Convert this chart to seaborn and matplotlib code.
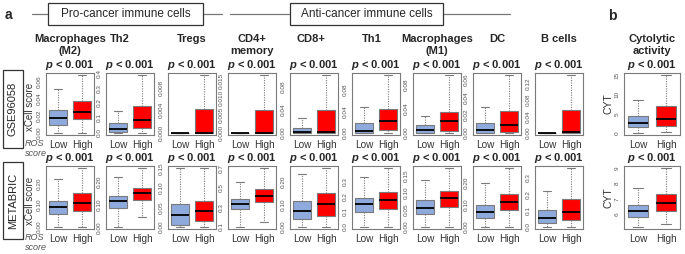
import matplotlib
matplotlib.use("Agg")
import matplotlib.pyplot as plt
import numpy as np
import pandas as pd
import seaborn as sns
from matplotlib.lines import Line2D
from matplotlib.patches import Rectangle

W, H = 685, 254

GROUPS = ["Low", "High"]
TITLES = ["Macrophages\n(M2)", "Th2", "Tregs", "CD4+\nmemory", "CD8+", "Th1",
          "Macrophages\n(M1)", "DC", "B cells", "Cytolytic\nactivity"]
P_TEXT = "$\\mathit{p}$ < 0.001"

# five-number summaries [min, q1, median, q3, max]
GSE_LOW = [
    [0.0, 0.009, 0.017, 0.027, 0.052],
    [0.0, 0.007, 0.028, 0.062, 0.145],
    [0.0, 0.0, 0.0, 0.0, 0.0],
    [0.0, 0.0, 0.0, 0.0, 0.0],
    [0.0, 0.0, 0.001, 0.008, 0.026],
    [0.0, 0.0, 0.004, 0.018, 0.049],
    [0.0, 0.0, 0.004, 0.012, 0.028],
    [0.0, 0.0, 0.003, 0.011, 0.029],
    [0.0, 0.0, 0.0, 0.0, 0.0],
    [0.1, 1.6, 2.6, 4.4, 8.5],
]
GSE_HIGH = [
    [0.0, 0.016, 0.025, 0.037, 0.068],
    [0.0, 0.034, 0.083, 0.18, 0.386],
    [0.0, 0.0, 0.0, 0.0043, 0.0102],
    [0.0, 0.0, 0.0, 0.0065, 0.0165],
    [0.0, 0.0, 0.0005, 0.04, 0.10],
    [0.0, 0.005, 0.022, 0.045, 0.108],
    [0.0, 0.003, 0.019, 0.035, 0.095],
    [0.0, 0.001, 0.009, 0.025, 0.065],
    [0.0, 0.0, 0.001, 0.055, 0.14],
    [0.2, 1.9, 3.6, 7.0, 15.0],
]
GSE_TICKS = [
    ["0.00", "0.02", "0.04", "0.06"],
    ["0.0", "0.1", "0.2", "0.3", "0.4"],
    ["0.000", "0.004", "0.008"],
    ["0.000", "0.005", "0.010", "0.015"],
    ["0.00", "0.04", "0.08"],
    ["0.00", "0.04", "0.08"],
    ["0.00", "0.04", "0.08"],
    ["0.00", "0.02", "0.04", "0.06"],
    ["0.00", "0.04", "0.08", "0.12"],
    ["0", "5", "10", "15"],
]

MET_LOW = [
    [0.0, 0.057, 0.09, 0.12, 0.22],
    [0.003, 0.085, 0.115, 0.14, 0.22],
    [0.0, 0.005, 0.031, 0.059, 0.15],
    [0.1, 0.28, 0.33, 0.38, 0.56],
    [0.0, 0.033, 0.071, 0.114, 0.238],
    [0.0, 0.095, 0.15, 0.19, 0.33],
    [0.0, 0.037, 0.055, 0.077, 0.135],
    [0.0, 0.038, 0.067, 0.10, 0.20],
    [0.0, 0.022, 0.055, 0.10, 0.22],
    [5.2, 5.85, 6.2, 6.6, 7.75],
]
MET_HIGH = [
    [0.0, 0.071, 0.11, 0.157, 0.27],
    [0.045, 0.12, 0.15, 0.175, 0.26],
    [0.0, 0.015, 0.041, 0.067, 0.15],
    [0.15, 0.35, 0.42, 0.49, 0.70],
    [0.0, 0.048, 0.10, 0.152, 0.262],
    [0.0, 0.115, 0.175, 0.23, 0.39],
    [0.0, 0.058, 0.083, 0.105, 0.17],
    [0.0, 0.075, 0.11, 0.148, 0.265],
    [0.0, 0.04, 0.09, 0.17, 0.36],
    [5.35, 6.2, 6.75, 7.35, 9.0],
]
MET_TICKS = [
    ["0.00", "0.10", "0.20"],
    ["0.00", "0.10", "0.20"],
    ["0.00", "0.05", "0.10", "0.15"],
    ["0.1", "0.3", "0.5", "0.7"],
    ["0.00", "0.10", "0.20"],
    ["0.0", "0.1", "0.2", "0.3"],
    ["0.00", "0.05", "0.10", "0.15"],
    ["0.00", "0.10", "0.20"],
    ["0.0", "0.1", "0.2", "0.3"],
    ["6", "7", "8", "9"],
]

LOW_COLOR = "#8EA9DB"
HIGH_COLOR = "#FF0000"
EDGE = "#7A7A7A"

# panel geometry in pixels
LEFTS = [46, 106, 168, 228, 290, 352, 413, 473, 535, 624]
WIDTHS = [48] * 9 + [56]
TITLE_SHIFT = [0, -10, 0, 0, -3, -4, 0, 0, 0, 0]
ROWS = [(73, 62), (166, 63)]


def fig_rect(left, top, width, height):
    return [left / W, 1 - (top + height) / H, width / W, height / H]


def fx(x):
    return x / W


def fy(y):
    return 1 - y / H


def draw_panel(ax, low, high, ticks):
    df = pd.DataFrame({"group": np.repeat(GROUPS, 5), "value": list(low) + list(high)})
    sns.boxplot(data=df, x="group", y="value", hue="group", order=GROUPS,
                palette=[LOW_COLOR, HIGH_COLOR], saturation=1, whis=(0, 100), width=0.72,
                linecolor=EDGE, linewidth=0.8, showfliers=False, legend=False,
                whiskerprops=dict(linestyle=(0, (1, 1.2))),
                medianprops=dict(color="black", linewidth=1.3), ax=ax)
    lo = min(min(low), min(high))
    hi = max(max(low), max(high))
    pad = 0.04 * (hi - lo)
    ax.set_ylim(lo - pad, hi + pad)
    ax.set_xlim(-0.5, 1.5)
    ax.set_yticks([float(t) for t in ticks])
    ax.set_yticklabels(ticks, rotation=90, va="center", fontsize=4.6, color="#555555")
    ax.set_xticks([0, 1])
    ax.set_xticklabels(GROUPS, fontsize=7.2, color="#333333")
    ax.tick_params(axis="y", length=2, width=0.6, color=EDGE, pad=1)
    ax.tick_params(axis="x", length=2, width=0.6, color=EDGE, pad=1.5)
    ax.set_xlabel("")
    ax.set_ylabel("")
    for sp in ax.spines.values():
        sp.set_visible(True)
        sp.set_color(EDGE)
        sp.set_linewidth(0.8)


def main():
    sns.set_theme(style="white")
    plt.rcParams["font.family"] = ["Liberation Sans", "DejaVu Sans"]
    plt.rcParams["mathtext.fontset"] = "custom"
    plt.rcParams["mathtext.it"] = "Liberation Sans:italic:bold"
    plt.rcParams["mathtext.rm"] = "Liberation Sans:bold"

    fig = plt.figure(figsize=(W / 100, H / 100), dpi=100)

    data_rows = [(GSE_LOW, GSE_HIGH, GSE_TICKS), (MET_LOW, MET_HIGH, MET_TICKS)]
    for (top, height), (lows, highs, ticks) in zip(ROWS, data_rows):
        for i in range(10):
            ax = fig.add_axes(fig_rect(LEFTS[i], top, WIDTHS[i], height))
            draw_panel(ax, lows[i], highs[i], ticks[i])
            fig.text(fx(LEFTS[i] + WIDTHS[i] / 2), fy(top - 1), P_TEXT, ha="center", va="bottom",
                     fontsize=8, fontweight="bold")
        mid = top + height / 2 + 3
        fig.text(fx(30), fy(mid), "xCell score", rotation=90, ha="center", va="center",
                 fontsize=7, color="#333333")
        fig.text(fx(608), fy(mid - 3), "CYT", rotation=90, ha="center", va="center",
                 fontsize=7.5, color="#333333")
        fig.text(fx(25), fy(top + height + 8), "ROS", ha="left", va="center",
                 fontsize=6.5, style="italic", color="#555555")
        fig.text(fx(25), fy(top + height + 19), "score", ha="left", va="center",
                 fontsize=6.5, style="italic", color="#555555")

    # dataset boxes on the left
    for (y0, y1), name in [((70, 148), "GSE96058"), ((162, 239), "METABRIC")]:
        fig.patches.append(Rectangle((fx(3), fy(y1)), fx(20), (y1 - y0) / H, transform=fig.transFigure,
                                     fill=False, edgecolor="#333333", linewidth=0.9))
        fig.text(fx(13), fy((y0 + y1) / 2), name, rotation=90, ha="center", va="center", fontsize=8)

    # panel titles
    for i, title in enumerate(TITLES):
        fig.text(fx(LEFTS[i] + WIDTHS[i] / 2 + TITLE_SHIFT[i]), fy(34), title, ha="center", va="top",
                 fontsize=8, fontweight="bold", linespacing=1.3)

    # group headers
    for (x0, x1), (l0, l1), label in [((48, 203), (32, 222), "Pro-cancer immune cells"),
                                      ((290, 443), (230, 510), "Anti-cancer immune cells")]:
        fig.lines.append(Line2D([fx(l0), fx(l1)], [fy(14), fy(14)], transform=fig.transFigure,
                                color="#777777", linewidth=0.9))
        fig.patches.append(Rectangle((fx(x0), fy(25)), fx(x1 - x0), 22 / H, transform=fig.transFigure,
                                     facecolor="white", edgecolor="#333333", linewidth=0.9, zorder=3))
        fig.text(fx((x0 + x1) / 2), fy(14), label, ha="center", va="center", fontsize=8.5, zorder=4)

    fig.text(fx(5), fy(15), "a", ha="left", va="center", fontsize=10, fontweight="bold")
    fig.text(fx(608), fy(16), "b", ha="left", va="center", fontsize=10, fontweight="bold")

    fig.savefig("out.png", dpi=100)


if __name__ == "__main__":
    main()
